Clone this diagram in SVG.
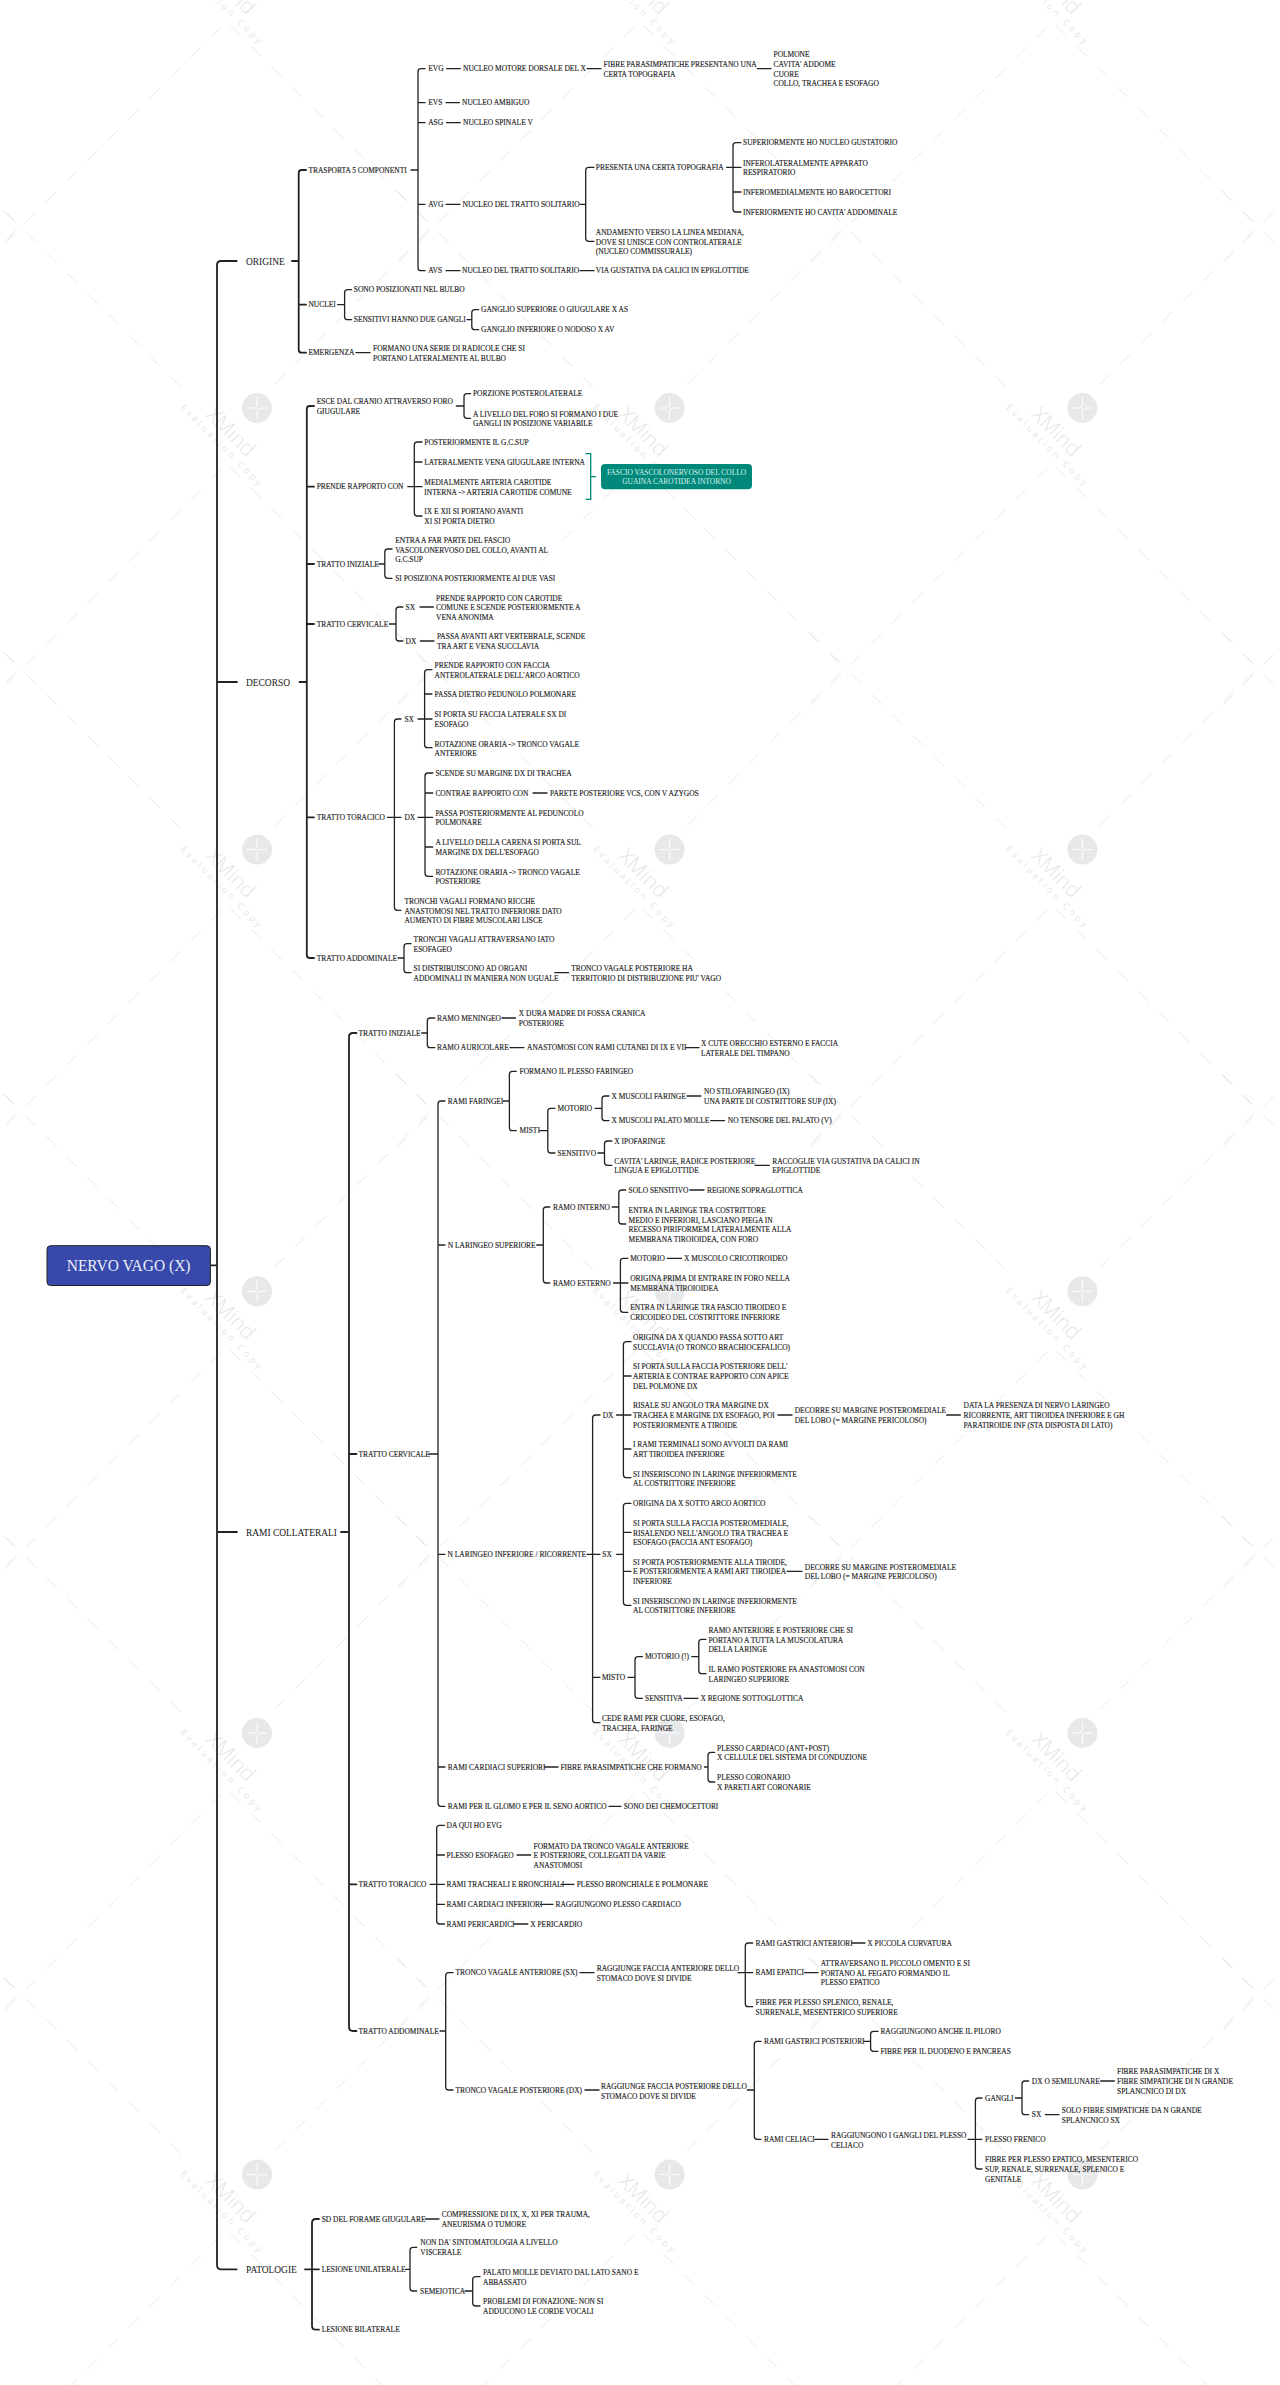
<svg xmlns="http://www.w3.org/2000/svg" width="1280" height="2385" viewBox="0 0 1280 2385">
<style>
text{font-family:"Liberation Serif","Times New Roman",serif;fill:#1c1c1c;dominant-baseline:central;transform:scale(.9,1);font-size:8.3px;stroke:#1c1c1c;stroke-width:.15}
text.l1{font-size:10.5px;stroke-width:.05}
text.root{font-size:17.2px;fill:#e8f0f6;stroke:none;text-anchor:middle}
text.note{fill:#d9f1ec;stroke:none;text-anchor:middle}
.c{fill:none;stroke:#222;stroke-width:1.3;stroke-linecap:round}
.c1{stroke-width:1.8}
.teal{stroke:#00897b;stroke-linecap:butt}
.arm{fill:none;stroke:#e9e9e9;stroke-width:1;stroke-dasharray:14.6 14.6}
text.wa,text.wb{font-family:"Open Sans",sans-serif;fill:#e6e6e7;stroke:none;dominant-baseline:auto}
text.wa{font-size:21px;font-weight:300;transform:translate(-52px,8px) rotate(45deg)}
text.wb{font-size:9px;letter-spacing:3.1px;transform:translate(-77px,0) rotate(45deg)}
</style>
<defs>
<g id="wm">
<path class="arm" d="M17.5 -23.7L172 -178.2M-76.4 -21L-274 -218.6M-35.4 60.6L-272 297.2M-26.7 59L169 254.7"/>
<circle r="15" fill="#e7e8ea"/>
<path d="M-10 0H-3Q0 0 0 -3V-11M10 0H3Q0 0 0 3V11" fill="none" stroke="#fff" stroke-width="1"/>
<text class="wa">XMind</text>
<text class="wb">Evaluation Copy</text>
</g>
</defs>
<rect width="1280" height="2385" fill="#fff"/>
<g id="watermark">
<use href="#wm" x="-155.5" y="-34"/><use href="#wm" x="257" y="-34"/><use href="#wm" x="669.6" y="-34"/><use href="#wm" x="1082.4" y="-34"/><use href="#wm" x="1494.9" y="-34"/>
<use href="#wm" x="-155.5" y="408"/><use href="#wm" x="257" y="408"/><use href="#wm" x="669.6" y="408"/><use href="#wm" x="1082.4" y="408"/><use href="#wm" x="1494.9" y="408"/>
<use href="#wm" x="-155.5" y="849.6"/><use href="#wm" x="257" y="849.6"/><use href="#wm" x="669.6" y="849.6"/><use href="#wm" x="1082.4" y="849.6"/><use href="#wm" x="1494.9" y="849.6"/>
<use href="#wm" x="-155.5" y="1291.3"/><use href="#wm" x="257" y="1291.3"/><use href="#wm" x="669.6" y="1291.3"/><use href="#wm" x="1082.4" y="1291.3"/><use href="#wm" x="1494.9" y="1291.3"/>
<use href="#wm" x="-155.5" y="1733"/><use href="#wm" x="257" y="1733"/><use href="#wm" x="669.6" y="1733"/><use href="#wm" x="1082.4" y="1733"/><use href="#wm" x="1494.9" y="1733"/>
<use href="#wm" x="-155.5" y="2174.6"/><use href="#wm" x="257" y="2174.6"/><use href="#wm" x="669.6" y="2174.6"/><use href="#wm" x="1082.4" y="2174.6"/><use href="#wm" x="1494.9" y="2174.6"/>
</g>
<g id="connectors">
<path class="c c1" d="M210.3 1265.3H217M236.7 261H221q-4 0 -4 4V2265.3q0 4 4 4H236.7M217 682H237M217 1532H237"/>
<path class="c c1" d="M306 170H301.7q-3 0 -3 3V349.7q0 3 3 3H306M292 261H298.7M298.7 304.7H306"/>
<path class="c c1" d="M314 406H309.8q-3 0 -3 3V955q0 3 3 3H314M299.5 682H306.8M306.8 486.7H314M306.8 564H314M306.8 624H314M306.8 817.3H314"/>
<path class="c c1" d="M356.5 1033H353q-4 0 -4 4V2027q0 4 4 4H356.5M341 1532H349M349 1454H356.5M349 1884.3H356.5"/>
<path class="c c1" d="M319 2219H316q-4 0 -4 4V2325.7q0 4 4 4H319M305 2269.3H319"/>
<path class="c" d="M425 68.7H421q-3 0 -3 3V267.7q0 3 3 3H425M411 170H418M418 102.7H425M418 122.7H425M418 204.3H425"/>
<path class="c" d="M446.6 68.7H460.3M587 68.7H601M757.4 68.7H771M446 102.7H459.4M446.6 122.7H460.3M446 204.3H460M446 270.7H460M580 270.7H594"/>
<path class="c" d="M594 167.3H588.7q-3 0 -3 3V238.3q0 3 3 3H594M580 204.3H585.7"/>
<path class="c" d="M741 142.7H736q-3 0 -3 3V209q0 3 3 3H741M726.6 167.3H741M733 192H741"/>
<path class="c" d="M351.5 289.7H347.6q-3 0 -3 3V316.7q0 3 3 3H351.5M337.7 304.7H344.6"/>
<path class="c" d="M478.7 309.7H474.8q-3 0 -3 3V326.7q0 3 3 3H478.7M467 319.7H471.8"/>
<path class="c" d="M356 352.7H370"/>
<path class="c" d="M470.6 393.7H467q-3 0 -3 3V415.3q0 3 3 3H470.6M456.4 406H464"/>
<path class="c" d="M422 442H417.3q-3 0 -3 3V513q0 3 3 3H422M407.8 486.7H422M414.3 462H422"/>
<path class="c teal" d="M585.5 453.7H590.7V499.3H585.5M590.7 476.7H596"/>
<path class="c" d="M392 549H387.8q-3 0 -3 3V575.3q0 3 3 3H392M379 564H384.8"/>
<path class="c" d="M402.8 607H399q-3 0 -3 3V638q0 3 3 3H402.8M389.4 624H396M420 607H433.4M420.4 641H434"/>
<path class="c" d="M401 719H397.4q-3 0 -3 3V907.3q0 3 3 3H401M387.5 817.3H401"/>
<path class="c" d="M432 669.7H427.6q-3 0 -3 3V744.7q0 3 3 3H432M418 719H432M424.6 694H432"/>
<path class="c" d="M432.7 773H428q-3 0 -3 3V873.3q0 3 3 3H432.7M418 817.3H432.7M425 793H432.7M425 847H432.7M533 793H547"/>
<path class="c" d="M411 943.7H407q-3 0 -3 3V969.7q0 3 3 3H411M398 958H404M554.8 972.7H568.5"/>
<path class="c" d="M434.7 1018H430.3q-3 0 -3 3V1044.7q0 3 3 3H434.7M421.6 1033H427.3M502 1018H515.5M510 1047.7H524M685.7 1047.7H699"/>
<path class="c" d="M445 1101H441q-3 0 -3 3V1803.3q0 3 3 3H445M429 1454H438M438 1245H445M438 1554.3H445M438 1767H445"/>
<path class="c" d="M516.3 1071.3H512.4q-3 0 -3 3V1127.7q0 3 3 3H516.3M503 1101H509.4"/>
<path class="c" d="M555 1108.3H550.8q-3 0 -3 3V1150q0 3 3 3H555M539.6 1130.7H547.8"/>
<path class="c" d="M609 1096H605q-3 0 -3 3V1117.7q0 3 3 3H609M595 1108.3H602M687 1096H700.8M710.6 1120.7H724.5"/>
<path class="c" d="M611.8 1141H607.5q-3 0 -3 3V1162.3q0 3 3 3H611.8M598 1153H604.5M755 1165.3H769.4"/>
<path class="c" d="M549.8 1207H546.3q-3 0 -3 3V1280q0 3 3 3H549.8M536.7 1245H543.3"/>
<path class="c" d="M625.7 1190H621.8q-3 0 -3 3V1221q0 3 3 3H625.7M612.2 1207H618.8M689.8 1190H704"/>
<path class="c" d="M627.8 1258.3H623.4q-3 0 -3 3V1309.3q0 3 3 3H627.8M613.5 1283H627.8M667.3 1258.3H681.6"/>
<path class="c" d="M600 1415H595.6q-3 0 -3 3V1719.7q0 3 3 3H600M587 1554.3H600M592.6 1677.3H600"/>
<path class="c" d="M631 1341.7H626.4q-3 0 -3 3V1474.7q0 3 3 3H631M616.5 1415H631M623.4 1376H631M623.4 1449H631M778 1415H792M946.6 1415H960.4"/>
<path class="c" d="M631 1503.3H626.4q-3 0 -3 3V1602.3q0 3 3 3H631M616.5 1554.3H623.4M623.4 1532.3H631M623.4 1571.3H631M787 1571.3H802"/>
<path class="c" d="M642.4 1656.7H638q-3 0 -3 3V1695.3q0 3 3 3H642.4M628 1677.3H635"/>
<path class="c" d="M706 1639.3H701.8q-3 0 -3 3V1670.7q0 3 3 3H706M691.8 1656.7H698.8M684 1698.3H698"/>
<path class="c" d="M544.5 1767H558M714.7 1752.3H711q-3 0 -3 3V1779q0 3 3 3H714.7M704.5 1767H708M609 1806.3H621"/>
<path class="c" d="M444.5 1825.3H439.7q-3 0 -3 3V1921q0 3 3 3H444.5M430 1884.3H444.5M436.7 1855H444.5M436.7 1904.3H444.5M517 1855H530.6M561 1884.3H574M540.4 1904.3H553M514 1924H527.8"/>
<path class="c" d="M453 1972.7H448.7q-3 0 -3 3V2087q0 3 3 3H453M440 2031H445.7M580 1972.7H593.9M585 2090H599"/>
<path class="c" d="M752.7 1943H748.3q-3 0 -3 3V2003.7q0 3 3 3H752.7M738 1972.7H752.7M851.8 1943H865M804.5 1972.7H818"/>
<path class="c" d="M761 2041.3H757.3q-3 0 -3 3V2136.3q0 3 3 3H761M747.3 2090H754.3"/>
<path class="c" d="M878 2031.3H873.6q-3 0 -3 3V2048.3q0 3 3 3H878M863.7 2041.3H870.6M814.7 2139.3H828"/>
<path class="c" d="M982 2098H978.4q-3 0 -3 3V2166q0 3 3 3H982M968 2139.3H982"/>
<path class="c" d="M1028.6 2081H1025q-3 0 -3 3V2111.7q0 3 3 3H1028.6M1015.4 2098H1022M1100.7 2081H1114.3M1045.4 2114.7H1059"/>
<path class="c" d="M425.7 2219H439M416.7 2247.3H413q-3 0 -3 3V2288q0 3 3 3H416.7M405.7 2269.3H410"/>
<path class="c" d="M480 2276.7H475.7q-3 0 -3 3V2303q0 3 3 3H480M465 2291H472.7"/>
</g>
<g id="root" transform="translate(128.6 1265.5)"><rect x="-81.6" y="-19.8" width="163.4" height="39.8" rx="3.5" fill="#3949ab" stroke="#222" stroke-width="1"/><text class="root">NERVO VAGO (X)</text></g>
<g id="n-origine" transform="translate(246 261)"><text class="l1">ORIGINE</text></g>
<g id="n-decorso" transform="translate(246 682)"><text class="l1">DECORSO</text></g>
<g id="n-rami" transform="translate(246 1532)"><text class="l1">RAMI COLLATERALI</text></g>
<g id="n-patologie" transform="translate(246 2269.3)"><text class="l1">PATOLOGIE</text></g>
<g id="n1" transform="translate(308.4 170)"><text>TRASPORTA 5 COMPONENTI</text></g>
<g id="n2" transform="translate(428.2 68.7)"><text>EVG</text></g>
<g id="n3" transform="translate(463 68.7)"><text>NUCLEO MOTORE DORSALE DEL X</text></g>
<g id="n4" transform="translate(603.6 64)"><text><tspan x="0">FIBRE PARASIMPATICHE PRESENTANO UNA</tspan><tspan x="0" dy="9.65">CERTA TOPOGRAFIA</tspan></text></g>
<g id="n5" transform="translate(773.5 54.3)"><text><tspan x="0">POLMONE</tspan><tspan x="0" dy="9.65">CAVITA' ADDOME</tspan><tspan x="0" dy="9.65">CUORE</tspan><tspan x="0" dy="9.65">COLLO, TRACHEA E ESOFAGO</tspan></text></g>
<g id="n6" transform="translate(428.2 102.7)"><text>EVS</text></g>
<g id="n7" transform="translate(462 102.7)"><text>NUCLEO AMBIGUO</text></g>
<g id="n8" transform="translate(428.2 122.7)"><text>ASG</text></g>
<g id="n9" transform="translate(463 122.7)"><text>NUCLEO SPINALE V</text></g>
<g id="n10" transform="translate(428.2 204.3)"><text>AVG</text></g>
<g id="n11" transform="translate(462.6 204.3)"><text>NUCLEO DEL TRATTO SOLITARIO</text></g>
<g id="n12" transform="translate(595.8 167.3)"><text>PRESENTA UNA CERTA TOPOGRAFIA</text></g>
<g id="n13" transform="translate(743 142.7)"><text>SUPERIORMENTE HO NUCLEO GUSTATORIO</text></g>
<g id="n14" transform="translate(743 162.7)"><text><tspan x="0">INFEROLATERALMENTE APPARATO</tspan><tspan x="0" dy="9.65">RESPIRATORIO</tspan></text></g>
<g id="n15" transform="translate(743 192)"><text>INFEROMEDIALMENTE HO BAROCETTORI</text></g>
<g id="n16" transform="translate(743 212)"><text>INFERIORMENTE HO CAVITA' ADDOMINALE</text></g>
<g id="n17" transform="translate(595.8 232)"><text><tspan x="0">ANDAMENTO VERSO LA LINEA MEDIANA,</tspan><tspan x="0" dy="9.65">DOVE SI UNISCE CON CONTROLATERALE</tspan><tspan x="0" dy="9.65">(NUCLEO COMMISSURALE)</tspan></text></g>
<g id="n18" transform="translate(428.2 270.7)"><text>AVS</text></g>
<g id="n19" transform="translate(462 270.7)"><text>NUCLEO DEL TRATTO SOLITARIO</text></g>
<g id="n20" transform="translate(595.8 270.7)"><text>VIA GUSTATIVA DA CALICI IN EPIGLOTTIDE</text></g>
<g id="n21" transform="translate(308.4 304.7)"><text>NUCLEI</text></g>
<g id="n22" transform="translate(353.8 289.7)"><text>SONO POSIZIONATI NEL BULBO</text></g>
<g id="n23" transform="translate(353.8 319.7)"><text>SENSITIVI HANNO DUE GANGLI</text></g>
<g id="n24" transform="translate(481 309.7)"><text>GANGLIO SUPERIORE O GIUGULARE X AS</text></g>
<g id="n25" transform="translate(481 329.7)"><text>GANGLIO INFERIORE O NODOSO X AV</text></g>
<g id="n26" transform="translate(308.4 352.7)"><text>EMERGENZA</text></g>
<g id="n27" transform="translate(373 348)"><text><tspan x="0">FORMANO UNA SERIE DI RADICOLE CHE SI</tspan><tspan x="0" dy="9.65">PORTANO LATERALMENTE AL BULBO</tspan></text></g>
<g id="n28" transform="translate(316.7 401.3)"><text><tspan x="0">ESCE DAL CRANIO ATTRAVERSO FORO</tspan><tspan x="0" dy="9.65">GIUGULARE</tspan></text></g>
<g id="n29" transform="translate(472.9 393.7)"><text>PORZIONE POSTEROLATERALE</text></g>
<g id="n30" transform="translate(472.9 413.7)"><text><tspan x="0">A LIVELLO DEL FORO SI FORMANO I DUE</tspan><tspan x="0" dy="9.65">GANGLI IN POSIZIONE VARIABILE</tspan></text></g>
<g id="n31" transform="translate(316.7 486.7)"><text>PRENDE RAPPORTO CON</text></g>
<g id="n32" transform="translate(424.3 442)"><text>POSTERIORMENTE IL G.C.SUP</text></g>
<g id="n33" transform="translate(424.3 462)"><text>LATERALMENTE VENA GIUGULARE INTERNA</text></g>
<g id="n34" transform="translate(424.3 482)"><text><tspan x="0">MEDIALMENTE ARTERIA CAROTIDE</tspan><tspan x="0" dy="9.65">INTERNA -&gt; ARTERIA CAROTIDE COMUNE</tspan></text></g>
<g id="n35" transform="translate(424.3 511.3)"><text><tspan x="0">IX E XII SI PORTANO AVANTI</tspan><tspan x="0" dy="9.65">XI SI PORTA DIETRO</tspan></text></g>
<g id="note" transform="translate(676.5 471.7)"><rect x="-75.5" y="-7.7" width="151" height="25.3" rx="4" fill="#00897b"/><text class="note"><tspan x="0">FASCIO VASCOLONERVOSO DEL COLLO</tspan><tspan x="0" dy="9.65">GUAINA CAROTIDEA INTORNO</tspan></text></g>
<g id="n36" transform="translate(316.7 564)"><text>TRATTO INIZIALE</text></g>
<g id="n37" transform="translate(395.2 540)"><text><tspan x="0">ENTRA A FAR PARTE DEL FASCIO</tspan><tspan x="0" dy="9.65">VASCOLONERVOSO DEL COLLO, AVANTI AL</tspan><tspan x="0" dy="9.65">G.C.SUP</tspan></text></g>
<g id="n38" transform="translate(395.2 578.3)"><text>SI POSIZIONA POSTERIORMENTE AI DUE VASI</text></g>
<g id="n39" transform="translate(316.7 624)"><text>TRATTO CERVICALE</text></g>
<g id="n40" transform="translate(405.5 607)"><text>SX</text></g>
<g id="n41" transform="translate(436 597.7)"><text><tspan x="0">PRENDE RAPPORTO CON CAROTIDE</tspan><tspan x="0" dy="9.65">COMUNE E SCENDE POSTERIORMENTE A</tspan><tspan x="0" dy="9.65">VENA ANONIMA</tspan></text></g>
<g id="n42" transform="translate(405.5 641)"><text>DX</text></g>
<g id="n43" transform="translate(436.9 636.3)"><text><tspan x="0">PASSA AVANTI ART VERTEBRALE, SCENDE</tspan><tspan x="0" dy="9.65">TRA ART E VENA SUCCLAVIA</tspan></text></g>
<g id="n44" transform="translate(316.7 817.3)"><text>TRATTO TORACICO</text></g>
<g id="n45" transform="translate(404.4 719)"><text>SX</text></g>
<g id="n46" transform="translate(434.6 665)"><text><tspan x="0">PRENDE RAPPORTO CON FACCIA</tspan><tspan x="0" dy="9.65">ANTEROLATERALE DELL'ARCO AORTICO</tspan></text></g>
<g id="n47" transform="translate(434.6 694)"><text>PASSA DIETRO PEDUNOLO POLMONARE</text></g>
<g id="n48" transform="translate(434.6 714)"><text><tspan x="0">SI PORTA SU FACCIA LATERALE SX DI</tspan><tspan x="0" dy="9.65">ESOFAGO</tspan></text></g>
<g id="n49" transform="translate(434.6 743.7)"><text><tspan x="0">ROTAZIONE ORARIA -&gt; TRONCO VAGALE</tspan><tspan x="0" dy="9.65">ANTERIORE</tspan></text></g>
<g id="n50" transform="translate(404.4 817.3)"><text>DX</text></g>
<g id="n51" transform="translate(435.4 773)"><text>SCENDE SU MARGINE DX DI TRACHEA</text></g>
<g id="n52" transform="translate(435.4 793)"><text>CONTRAE RAPPORTO CON</text></g>
<g id="n53" transform="translate(550 793)"><text>PARETE POSTERIORE VCS, CON V AZYGOS</text></g>
<g id="n54" transform="translate(435.4 812.7)"><text><tspan x="0">PASSA POSTERIORMENTE AL PEDUNCOLO</tspan><tspan x="0" dy="9.65">POLMONARE</tspan></text></g>
<g id="n55" transform="translate(435.4 842.3)"><text><tspan x="0">A LIVELLO DELLA CARENA SI PORTA SUL</tspan><tspan x="0" dy="9.65">MARGINE DX DELL'ESOFAGO</tspan></text></g>
<g id="n56" transform="translate(435.4 871.7)"><text><tspan x="0">ROTAZIONE ORARIA -&gt; TRONCO VAGALE</tspan><tspan x="0" dy="9.65">POSTERIORE</tspan></text></g>
<g id="n57" transform="translate(404.4 901)"><text><tspan x="0">TRONCHI VAGALI FORMANO RICCHE</tspan><tspan x="0" dy="9.65">ANASTOMOSI NEL TRATTO INFERIORE DATO</tspan><tspan x="0" dy="9.65">AUMENTO DI FIBRE MUSCOLARI LISCE</tspan></text></g>
<g id="n58" transform="translate(316.7 958)"><text>TRATTO ADDOMINALE</text></g>
<g id="n59" transform="translate(413.6 939)"><text><tspan x="0">TRONCHI VAGALI ATTRAVERSANO IATO</tspan><tspan x="0" dy="9.65">ESOFAGEO</tspan></text></g>
<g id="n60" transform="translate(413.6 968.3)"><text><tspan x="0">SI DISTRIBUISCONO AD ORGANI</tspan><tspan x="0" dy="9.65">ADDOMINALI IN MANIERA NON UGUALE</tspan></text></g>
<g id="n61" transform="translate(571.2 968.3)"><text><tspan x="0">TRONCO VAGALE POSTERIORE HA</tspan><tspan x="0" dy="9.65">TERRITORIO DI DISTRIBUZIONE PIU' VAGO</tspan></text></g>
<g id="n62" transform="translate(358.4 1033)"><text>TRATTO INIZIALE</text></g>
<g id="n63" transform="translate(437 1018)"><text>RAMO MENINGEO</text></g>
<g id="n64" transform="translate(518.8 1013.3)"><text><tspan x="0">X DURA MADRE DI FOSSA CRANICA</tspan><tspan x="0" dy="9.65">POSTERIORE</tspan></text></g>
<g id="n65" transform="translate(437 1047.7)"><text>RAMO AURICOLARE</text></g>
<g id="n66" transform="translate(527 1047.7)"><text>ANASTOMOSI CON RAMI CUTANEI DI IX E VII</text></g>
<g id="n67" transform="translate(701 1043)"><text><tspan x="0">X CUTE ORECCHIO ESTERNO E FACCIA</tspan><tspan x="0" dy="9.65">LATERALE DEL TIMPANO</tspan></text></g>
<g id="n68" transform="translate(358.4 1454)"><text>TRATTO CERVICALE</text></g>
<g id="n69" transform="translate(447.8 1101)"><text>RAMI FARINGEI</text></g>
<g id="n70" transform="translate(519.6 1071.3)"><text>FORMANO IL PLESSO FARINGEO</text></g>
<g id="n71" transform="translate(519.6 1130.7)"><text>MISTI</text></g>
<g id="n72" transform="translate(557.6 1108.3)"><text>MOTORIO</text></g>
<g id="n73" transform="translate(611.4 1096)"><text>X MUSCOLI FARINGE</text></g>
<g id="n74" transform="translate(704 1091.3)"><text><tspan x="0">NO STILOFARINGEO (IX)</tspan><tspan x="0" dy="9.65">UNA PARTE DI COSTRITTORE SUP (IX)</tspan></text></g>
<g id="n75" transform="translate(611.4 1120.7)"><text>X MUSCOLI PALATO MOLLE</text></g>
<g id="n76" transform="translate(727.8 1120.7)"><text>NO TENSORE DEL PALATO (V)</text></g>
<g id="n77" transform="translate(557.6 1153)"><text>SENSITIVO</text></g>
<g id="n78" transform="translate(614.3 1141)"><text>X IPOFARINGE</text></g>
<g id="n79" transform="translate(614.3 1160.7)"><text><tspan x="0">CAVITA' LARINGE, RADICE POSTERIORE</tspan><tspan x="0" dy="9.65">LINGUA E EPIGLOTTIDE</tspan></text></g>
<g id="n80" transform="translate(772.2 1160.7)"><text><tspan x="0">RACCOGLIE VIA GUSTATIVA DA CALICI IN</tspan><tspan x="0" dy="9.65">EPIGLOTTIDE</tspan></text></g>
<g id="n81" transform="translate(447.8 1245)"><text>N LARINGEO SUPERIORE</text></g>
<g id="n82" transform="translate(553 1207)"><text>RAMO INTERNO</text></g>
<g id="n83" transform="translate(628.6 1190)"><text>SOLO SENSITIVO</text></g>
<g id="n84" transform="translate(707 1190)"><text>REGIONE SOPRAGLOTTICA</text></g>
<g id="n85" transform="translate(628.6 1210)"><text><tspan x="0">ENTRA IN LARINGE TRA COSTRITTORE</tspan><tspan x="0" dy="9.65">MEDIO E INFERIORI, LASCIANO PIEGA IN</tspan><tspan x="0" dy="9.65">RECESSO PIRIFORMEM LATERALMENTE ALLA</tspan><tspan x="0" dy="9.65">MEMBRANA TIROIOIDEA, CON FORO</tspan></text></g>
<g id="n86" transform="translate(553 1283)"><text>RAMO ESTERNO</text></g>
<g id="n87" transform="translate(630.2 1258.3)"><text>MOTORIO</text></g>
<g id="n88" transform="translate(684 1258.3)"><text>X MUSCOLO CRICOTIROIDEO</text></g>
<g id="n89" transform="translate(630.2 1278.3)"><text><tspan x="0">ORIGINA PRIMA DI ENTRARE IN FORO NELLA</tspan><tspan x="0" dy="9.65">MEMBRANA TIROIOIDEA</tspan></text></g>
<g id="n90" transform="translate(630.2 1307.3)"><text><tspan x="0">ENTRA IN LARINGE TRA FASCIO TIROIDEO E</tspan><tspan x="0" dy="9.65">CRICOIDEO DEL COSTRITTORE INFERIORE</tspan></text></g>
<g id="n91" transform="translate(447.5 1554.3)"><text>N LARINGEO INFERIORE / RICORRENTE</text></g>
<g id="n92" transform="translate(602.7 1415)"><text>DX</text></g>
<g id="n93" transform="translate(633 1337)"><text><tspan x="0">ORIGINA DA X QUANDO PASSA SOTTO ART</tspan><tspan x="0" dy="9.65">SUCCLAVIA (O TRONCO BRACHIOCEFALICO)</tspan></text></g>
<g id="n94" transform="translate(633 1366.3)"><text><tspan x="0">SI PORTA SULLA FACCIA POSTERIORE DELL'</tspan><tspan x="0" dy="9.65">ARTERIA E CONTRAE RAPPORTO CON APICE</tspan><tspan x="0" dy="9.65">DEL POLMONE DX</tspan></text></g>
<g id="n95" transform="translate(633 1405.3)"><text><tspan x="0">RISALE SU ANGOLO TRA MARGINE DX</tspan><tspan x="0" dy="9.65">TRACHEA E MARGINE DX ESOFAGO, POI</tspan><tspan x="0" dy="9.65">POSTERIORMENTE A TIROIDE</tspan></text></g>
<g id="n96" transform="translate(794.7 1410)"><text><tspan x="0">DECORRE SU MARGINE POSTEROMEDIALE</tspan><tspan x="0" dy="9.65">DEL LOBO (= MARGINE PERICOLOSO)</tspan></text></g>
<g id="n97" transform="translate(963.6 1405.3)"><text><tspan x="0">DATA LA PRESENZA DI NERVO LARINGEO</tspan><tspan x="0" dy="9.65">RICORRENTE, ART TIROIDEA INFERIORE E GH</tspan><tspan x="0" dy="9.65">PARATIROIDE INF (STA DISPOSTA DI LATO)</tspan></text></g>
<g id="n98" transform="translate(633 1444.3)"><text><tspan x="0">I RAMI TERMINALI SONO AVVOLTI DA RAMI</tspan><tspan x="0" dy="9.65">ART TIROIDEA INFERIORE</tspan></text></g>
<g id="n99" transform="translate(633 1473.7)"><text><tspan x="0">SI INSERISCONO IN LARINGE INFERIORMENTE</tspan><tspan x="0" dy="9.65">AL COSTRITTORE INFERIORE</tspan></text></g>
<g id="n100" transform="translate(602.3 1554.3)"><text>SX</text></g>
<g id="n101" transform="translate(633 1503.3)"><text>ORIGINA DA X SOTTO ARCO AORTICO</text></g>
<g id="n102" transform="translate(633 1523)"><text><tspan x="0">SI PORTA SULLA FACCIA POSTEROMEDIALE,</tspan><tspan x="0" dy="9.65">RISALENDO NELL'ANGOLO TRA TRACHEA E</tspan><tspan x="0" dy="9.65">ESOFAGO (FACCIA ANT ESOFAGO)</tspan></text></g>
<g id="n103" transform="translate(633 1561.7)"><text><tspan x="0">SI PORTA POSTERIORMENTE ALLA TIROIDE,</tspan><tspan x="0" dy="9.65">E POSTERIORMENTE A RAMI ART TIROIDEA</tspan><tspan x="0" dy="9.65">INFERIORE</tspan></text></g>
<g id="n104" transform="translate(804.8 1566.7)"><text><tspan x="0">DECORRE SU MARGINE POSTEROMEDIALE</tspan><tspan x="0" dy="9.65">DEL LOBO (= MARGINE PERICOLOSO)</tspan></text></g>
<g id="n105" transform="translate(633 1600.7)"><text><tspan x="0">SI INSERISCONO IN LARINGE INFERIORMENTE</tspan><tspan x="0" dy="9.65">AL COSTRITTORE INFERIORE</tspan></text></g>
<g id="n106" transform="translate(602 1677.3)"><text>MISTO</text></g>
<g id="n107" transform="translate(645 1656.7)"><text>MOTORIO (!)</text></g>
<g id="n108" transform="translate(708.4 1630)"><text><tspan x="0">RAMO ANTERIORE E POSTERIORE CHE SI</tspan><tspan x="0" dy="9.65">PORTANO A TUTTA LA MUSCOLATURA</tspan><tspan x="0" dy="9.65">DELLA LARINGE</tspan></text></g>
<g id="n109" transform="translate(708.6 1669)"><text><tspan x="0">IL RAMO POSTERIORE FA ANASTOMOSI CON</tspan><tspan x="0" dy="9.65">LARINGEO SUPERIORE</tspan></text></g>
<g id="n110" transform="translate(645 1698.3)"><text>SENSITIVA</text></g>
<g id="n111" transform="translate(700.4 1698.3)"><text>X REGIONE SOTTOGLOTTICA</text></g>
<g id="n112" transform="translate(602 1718.3)"><text><tspan x="0">CEDE RAMI PER CUORE, ESOFAGO,</tspan><tspan x="0" dy="9.65">TRACHEA, FARINGE</tspan></text></g>
<g id="n113" transform="translate(447.8 1767)"><text>RAMI CARDIACI SUPERIORI</text></g>
<g id="n114" transform="translate(560.4 1767)"><text>FIBRE PARASIMPATICHE CHE FORMANO</text></g>
<g id="n115" transform="translate(717 1747.7)"><text><tspan x="0">PLESSO CARDIACO (ANT+POST)</tspan><tspan x="0" dy="9.65">X CELLULE DEL SISTEMA DI CONDUZIONE</tspan></text></g>
<g id="n116" transform="translate(717 1777.3)"><text><tspan x="0">PLESSO CORONARIO</tspan><tspan x="0" dy="9.65">X PARETI ART CORONARIE</tspan></text></g>
<g id="n117" transform="translate(447.8 1806.3)"><text>RAMI PER IL GLOMO E PER IL SENO AORTICO</text></g>
<g id="n118" transform="translate(623.7 1806.3)"><text>SONO DEI CHEMOCETTORI</text></g>
<g id="n119" transform="translate(358.4 1884.3)"><text>TRATTO TORACICO</text></g>
<g id="n120" transform="translate(446.5 1825.3)"><text>DA QUI HO EVG</text></g>
<g id="n121" transform="translate(446.5 1855)"><text>PLESSO ESOFAGEO</text></g>
<g id="n122" transform="translate(533.5 1845.7)"><text><tspan x="0">FORMATO DA TRONCO VAGALE ANTERIORE</tspan><tspan x="0" dy="9.65">E POSTERIORE, COLLEGATI DA VARIE</tspan><tspan x="0" dy="9.65">ANASTOMOSI</tspan></text></g>
<g id="n123" transform="translate(446.5 1884.3)"><text>RAMI TRACHEALI E BRONCHIALI</text></g>
<g id="n124" transform="translate(576.7 1884.3)"><text>PLESSO BRONCHIALE E POLMONARE</text></g>
<g id="n125" transform="translate(446.5 1904.3)"><text>RAMI CARDIACI INFERIORI</text></g>
<g id="n126" transform="translate(555.5 1904.3)"><text>RAGGIUNGONO PLESSO CARDIACO</text></g>
<g id="n127" transform="translate(446.5 1924)"><text>RAMI PERICARDICI</text></g>
<g id="n128" transform="translate(530.2 1924)"><text>X PERICARDIO</text></g>
<g id="n129" transform="translate(358.4 2031)"><text>TRATTO ADDOMINALE</text></g>
<g id="n130" transform="translate(455.5 1972.7)"><text>TRONCO VAGALE ANTERIORE (SX)</text></g>
<g id="n131" transform="translate(596.7 1968)"><text><tspan x="0">RAGGIUNGE FACCIA ANTERIORE DELLO</tspan><tspan x="0" dy="9.65">STOMACO DOVE SI DIVIDE</tspan></text></g>
<g id="n132" transform="translate(755.5 1943)"><text>RAMI GASTRICI ANTERIORI</text></g>
<g id="n133" transform="translate(867.3 1943)"><text>X PICCOLA CURVATURA</text></g>
<g id="n134" transform="translate(755.5 1972.7)"><text>RAMI EPATICI</text></g>
<g id="n135" transform="translate(820.8 1963)"><text><tspan x="0">ATTRAVERSANO IL PICCOLO OMENTO E SI</tspan><tspan x="0" dy="9.65">PORTANO AL FEGATO FORMANDO IL</tspan><tspan x="0" dy="9.65">PLESSO EPATICO</tspan></text></g>
<g id="n136" transform="translate(755.5 2002)"><text><tspan x="0">FIBRE PER PLESSO SPLENICO, RENALE,</tspan><tspan x="0" dy="9.65">SURRENALE, MESENTERICO SUPERIORE</tspan></text></g>
<g id="n137" transform="translate(455.5 2090)"><text>TRONCO VAGALE POSTERIORE (DX)</text></g>
<g id="n138" transform="translate(601 2086)"><text><tspan x="0">RAGGIUNGE FACCIA POSTERIORE DELLO</tspan><tspan x="0" dy="9.65">STOMACO DOVE SI DIVIDE</tspan></text></g>
<g id="n139" transform="translate(764 2041.3)"><text>RAMI GASTRICI POSTERIORI</text></g>
<g id="n140" transform="translate(880.4 2031.3)"><text>RAGGIUNGONO ANCHE IL PILORO</text></g>
<g id="n141" transform="translate(880.4 2051.3)"><text>FIBRE PER IL DUODENO E PANCREAS</text></g>
<g id="n142" transform="translate(764 2139.3)"><text>RAMI CELIACI</text></g>
<g id="n143" transform="translate(831 2135)"><text><tspan x="0">RAGGIUNGONO I GANGLI DEL PLESSO</tspan><tspan x="0" dy="9.65">CELIACO</tspan></text></g>
<g id="n144" transform="translate(985 2098)"><text>GANGLI</text></g>
<g id="n145" transform="translate(1031.8 2081)"><text>DX O SEMILUNARE</text></g>
<g id="n146" transform="translate(1117 2071.3)"><text><tspan x="0">FIBRE PARASIMPATICHE DI X</tspan><tspan x="0" dy="9.65">FIBRE SIMPATICHE DI N GRANDE</tspan><tspan x="0" dy="9.65">SPLANCNICO DI DX</tspan></text></g>
<g id="n147" transform="translate(1031.8 2114.7)"><text>SX</text></g>
<g id="n148" transform="translate(1061.8 2110)"><text><tspan x="0">SOLO FIBRE SIMPATICHE DA N GRANDE</tspan><tspan x="0" dy="9.65">SPLANCNICO SX</tspan></text></g>
<g id="n149" transform="translate(985 2139.3)"><text>PLESSO FRENICO</text></g>
<g id="n150" transform="translate(985 2159.3)"><text><tspan x="0">FIBRE PER PLESSO EPATICO, MESENTERICO</tspan><tspan x="0" dy="9.65">SUP, RENALE, SURRENALE, SPLENICO E</tspan><tspan x="0" dy="9.65">GENITALE</tspan></text></g>
<g id="n151" transform="translate(321.7 2219)"><text>SD DEL FORAME GIUGULARE</text></g>
<g id="n152" transform="translate(441.7 2214)"><text><tspan x="0">COMPRESSIONE DI IX, X, XI PER TRAUMA,</tspan><tspan x="0" dy="9.65">ANEURISMA O TUMORE</tspan></text></g>
<g id="n153" transform="translate(321.7 2269.3)"><text>LESIONE UNILATERALE</text></g>
<g id="n154" transform="translate(420.3 2242.3)"><text><tspan x="0">NON DA' SINTOMATOLOGIA A LIVELLO</tspan><tspan x="0" dy="9.65">VISCERALE</tspan></text></g>
<g id="n155" transform="translate(420 2291)"><text>SEMEIOTICA</text></g>
<g id="n156" transform="translate(483 2272)"><text><tspan x="0">PALATO MOLLE DEVIATO DAL LATO SANO E</tspan><tspan x="0" dy="9.65">ABBASSATO</tspan></text></g>
<g id="n157" transform="translate(483 2301.3)"><text><tspan x="0">PROBLEMI DI FONAZIONE: NON SI</tspan><tspan x="0" dy="9.65">ADDUCONO LE CORDE VOCALI</tspan></text></g>
<g id="n158" transform="translate(321.7 2329.7)"><text>LESIONE BILATERALE</text></g>
</svg>
